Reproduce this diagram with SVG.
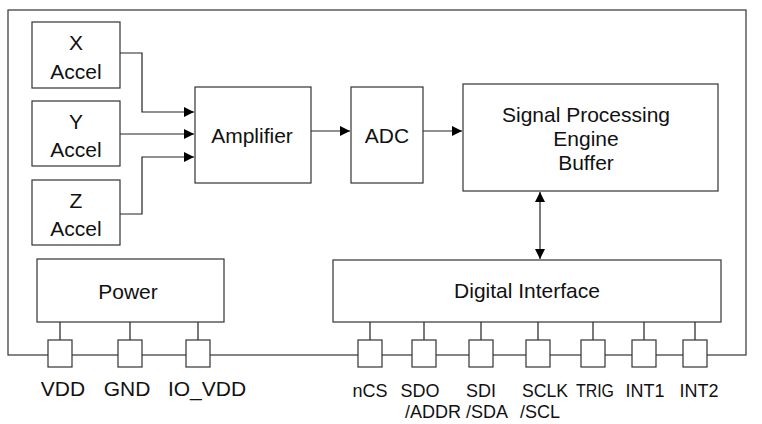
<svg xmlns="http://www.w3.org/2000/svg" width="762" height="424" viewBox="0 0 762 424">
<defs><marker id="a" viewBox="0 0 10 10" refX="10" refY="5" markerWidth="10" markerHeight="10" markerUnits="userSpaceOnUse" orient="auto-start-reverse"><path d="M0,0L10,5L0,10z" fill="#000"/></marker></defs>
<style>rect{fill:#fff;stroke:#333;stroke-width:1.2}text{font-family:"Liberation Sans",Arial,sans-serif;font-size:21px;text-anchor:middle;fill:#111}.p{font-size:18px}line,path.c{stroke:#222;stroke-width:1.2;fill:none}</style>
<rect x="8" y="10" width="738" height="345" fill="none"/>
<g id="connectors">
<path class="c" d="M120,53H142V112H194" marker-end="url(#a)"/>
<path class="c" d="M120,134H194" marker-end="url(#a)"/>
<path class="c" d="M120,214H142V157H194" marker-end="url(#a)"/>
<path class="c" d="M311,131H350" marker-end="url(#a)"/>
<path class="c" d="M423,131H462" marker-end="url(#a)"/>
<path class="c" d="M540,192V259" marker-start="url(#a)" marker-end="url(#a)"/>
<path class="c" d="M60,322V340M130,322V340M198,322V340M370,322V340M424,322V340M481,322V340M538,322V340M593,322V340M644,322V340M695,322V340"/>
</g>
<g id="x"><rect x="32" y="22" width="88" height="66"/><text x="76" y="50">X</text><text x="76" y="79">Accel</text></g>
<g id="y"><rect x="32" y="101" width="88" height="65"/><text x="76" y="129">Y</text><text x="76" y="157">Accel</text></g>
<g id="z"><rect x="32" y="180" width="88" height="65"/><text x="76" y="208">Z</text><text x="76" y="236">Accel</text></g>
<g id="amp"><rect x="195" y="87" width="116" height="96"/><text x="252" y="143">Amplifier</text></g>
<g id="adc"><rect x="351" y="87" width="72" height="96"/><text x="387" y="143">ADC</text></g>
<g id="spe"><rect x="463" y="84" width="255" height="107"/><text x="586" y="122">Signal Processing</text><text x="586" y="146">Engine</text><text x="586" y="170">Buffer</text></g>
<g id="power"><rect x="37" y="259" width="187" height="63"/><text x="128" y="299">Power</text></g>
<g id="digital"><rect x="333" y="260" width="388" height="62"/><text x="527" y="298">Digital Interface</text></g>
<g id="pins">
<rect x="48" y="340" width="24" height="27"/><rect x="118" y="340" width="24" height="27"/><rect x="186" y="340" width="24" height="27"/>
<rect x="358" y="340" width="24" height="27"/><rect x="412" y="340" width="24" height="27"/><rect x="469" y="340" width="24" height="27"/><rect x="526" y="340" width="24" height="27"/><rect x="581" y="340" width="24" height="27"/><rect x="632" y="340" width="24" height="27"/><rect x="683" y="340" width="24" height="27"/>
<text x="63" y="396">VDD</text><text x="127" y="396">GND</text><text x="207" y="396">IO_VDD</text>
<text class="p" x="370" y="397">nCS</text><text class="p" x="420" y="397">SDO</text><text class="p" x="433" y="418">/ADDR</text>
<text class="p" x="481" y="397">SDI</text><text class="p" x="487" y="418">/SDA</text>
<text class="p" x="545" y="397" textLength="46" lengthAdjust="spacingAndGlyphs">SCLK</text><text class="p" x="540" y="418">/SCL</text>
<text class="p" x="595" y="397" textLength="38" lengthAdjust="spacingAndGlyphs">TRIG</text><text class="p" x="645" y="397">INT1</text><text class="p" x="699" y="397">INT2</text>
</g>
</svg>
